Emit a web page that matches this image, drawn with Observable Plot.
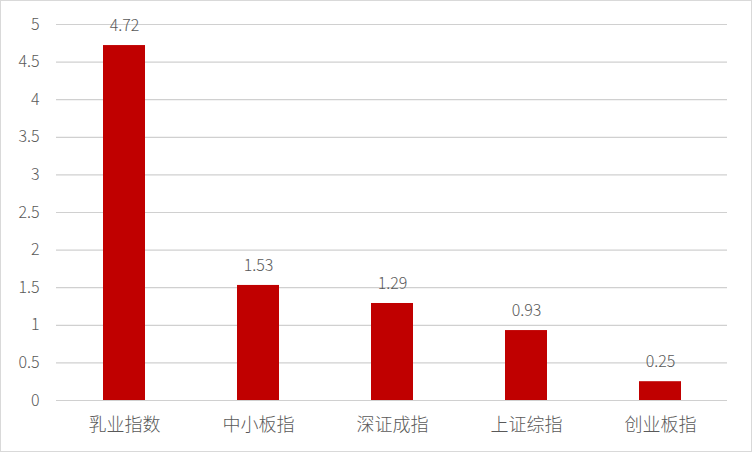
<!DOCTYPE html>
<html>
<head>
<meta charset="utf-8">
<script src="https://cdn.jsdelivr.net/npm/d3@7"></script>
<script src="https://cdn.jsdelivr.net/npm/@observablehq/plot@0.6"></script>
<style>
  html, body { margin: 0; padding: 0; background: #fff; }
  #wrap { position: relative; width: 752px; height: 452px; }
  #border { position: absolute; left: 0; top: 0; width: 752px; height: 452px; box-sizing: border-box; border: 1px solid #d9d9d9; pointer-events: none; }
</style>
</head>
<body>
<div id="wrap"><div id="border"></div></div>
<script>
const categories = ["乳业指数", "中小板指", "深证成指", "上证综指", "创业板指"];
const values = [4.72, 1.53, 1.29, 0.93, 0.25];
const yTicks = [0, 0.5, 1, 1.5, 2, 2.5, 3, 3.5, 4, 4.5, 5];

const data = categories.map((c, i) => ({category: c, value: values[i]}));

const chart = Plot.plot({
  width: 752,
  height: 452,
  marginLeft: 56,
  marginRight: 25,
  marginTop: 24,
  marginBottom: 52,
  style: {fontFamily: "'Noto Sans CJK SC', sans-serif", fontWeight: 300, color: "#595959", background: "white"},
  x: {domain: categories, paddingInner: 0.687, paddingOuter: 0.3435, label: null},
  y: {domain: [0, 5], label: null},
  marks: [
    Plot.gridY(yTicks, {stroke: "#d0d0d0", strokeOpacity: 1, strokeWidth: 1.2}),
    Plot.barY(data, {x: "category", y: "value", fill: "#c00000"}),
    Plot.text(data, {x: "category", y: "value", text: d => d.value.toFixed(2), dy: -20, fontSize: 16, fill: "#595959"}),
    Plot.axisY(yTicks, {tickSize: 0, tickPadding: 17, fontSize: 16, tickFormat: d => String(d), label: null, fill: "#595959"}),
    Plot.axisX({tickSize: 0, tickPadding: 18, fontSize: 18, label: null, fill: "#595959"})
  ]
});
document.getElementById("wrap").prepend(chart);
</script>
</body>
</html>
